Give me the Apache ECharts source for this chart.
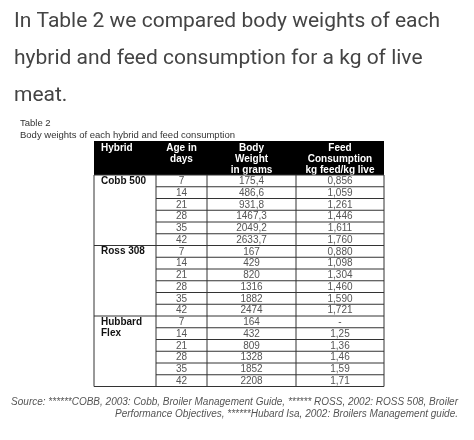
<!DOCTYPE html><html><head><meta charset="utf-8"><script src="https://cdn.jsdelivr.net/npm/echarts@6/dist/echarts.min.js"></script>
<style>html,body{margin:0;background:#fff}#c{width:474px;height:440px}</style></head><body><div id="c"></div><script>
const introLines=["In Table 2 we compared body weights of each","hybrid and feed consumption for a kg of live","meat."];
const headers=[["Hybrid"],["Age in","days"],["Body","Weight","in grams"],["Feed","Consumption","kg feed/kg live"]];
const hybrids=[["Cobb 500"],["Ross 308"],["Hubbard","Flex"]];
const ages=[7,14,21,28,35,42];
const weights=[["175,4","486,6","931,8","1467,3","2049,2","2633,7"],["167","429","820","1316","1882","2474"],["164","432","809","1328","1852","2208"]];
const feeds=[["0,856","1,059","1,261","1,446","1,611","1,760"],["0,880","1,098","1,304","1,460","1,590","1,721"],["-","1,25","1,36","1,46","1,59","1,71"]];
const cols=[94,156,207,296,384], top0=141, hTop=175, rh=11.75;
const g=[];
const F='"Liberation Sans",Arial,sans-serif';
introLines.forEach((t,i)=>g.push({type:'text',left:14,top:11+i*37,style:{text:t,font:'21px Roboto, sans-serif',fill:'#444'}}));
g.push({type:'text',left:20,top:118,style:{text:'Table 2',font:'9.5px '+F,fill:'#333'}});
g.push({type:'text',left:20,top:130,style:{text:'Body weights of each hybrid and feed consumption',font:'9.5px '+F,fill:'#333'}});
g.push({type:'rect',shape:{x:cols[0],y:top0,width:cols[4]-cols[0],height:hTop-top0},style:{fill:'#000'}});
headers.forEach((h,c)=>h.forEach((t,k)=>{
  const cx=c===0?cols[0]+7:(cols[c]+cols[c+1])/2;
  g.push({type:'text',x:cx,y:top0+2+k*11,style:{text:t,font:'bold 10px '+F,fill:'#fff',align:c===0?'left':'center',verticalAlign:'top'}});
}));
const L=(x1,y1,x2,y2)=>g.push({type:'line',shape:{x1,y1,x2,y2},style:{stroke:'#333',lineWidth:1}});
const bottom=hTop+rh*18;
cols.forEach(x=>L(x,hTop,x,bottom));
hybrids.forEach((name,gi)=>{
  const gy=hTop+gi*6*rh;
  L(cols[0],gy,cols[4],gy);
  name.forEach((t,k)=>g.push({type:'text',x:cols[0]+7,y:gy+1+k*11,style:{text:t,font:'bold 10px '+F,fill:'#111',verticalAlign:'top'}}));
  ages.forEach((a,r)=>{
    const y=gy+r*rh;
    if(r>0)L(cols[1],y,cols[4],y);
    [String(a),weights[gi][r],feeds[gi][r]].forEach((t,c)=>g.push({type:'text',x:(cols[c+1]+cols[c+2])/2,y:y+rh/2+0.5,style:{text:t,font:'10px '+F,fill:'#555',align:'center',verticalAlign:'middle'}}));
  });
});
L(cols[0],bottom,cols[4],bottom);
g.push({type:'text',x:458,y:397,style:{text:'Source: ******COBB, 2003: Cobb, Broiler Management Guide, ****** ROSS, 2002: ROSS 508, Broiler',font:'italic 10px '+F,fill:'#555',align:'right',verticalAlign:'top'}});
g.push({type:'text',x:458,y:409,style:{text:'Performance Objectives, ******Hubard Isa, 2002: Broilers Management guide.',font:'italic 10px '+F,fill:'#555',align:'right',verticalAlign:'top'}});
const ch=echarts.init(document.getElementById('c'));
ch.setOption({animation:false,graphic:g});
</script></body></html>
